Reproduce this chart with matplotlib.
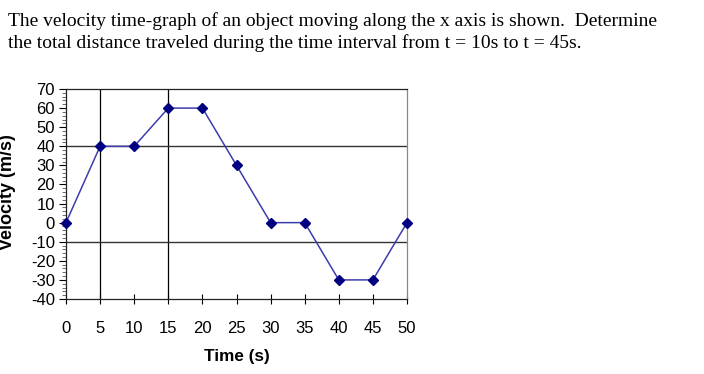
import matplotlib
matplotlib.use("Agg")
import matplotlib.pyplot as plt
from matplotlib.ticker import MultipleLocator

plt.rcParams["axes.unicode_minus"] = False

time_s = [0, 5, 10, 15, 20, 25, 30, 35, 40, 45, 50]
velocity = [0, 40, 40, 60, 60, 30, 0, 0, -30, -30, 0]
x_ticks = [0, 5, 10, 15, 20, 25, 30, 35, 40, 45, 50]
y_ticks = [70, 60, 50, 40, 30, 20, 10, 0, -10, -20, -30, -40]
grid_x = [5, 15]
grid_y = [40, -10]

fig = plt.figure(figsize=(7.04, 3.74), dpi=100)
fig.text(8/704, 1 - 32/374,
         "The velocity time-graph of an object moving along the x axis is shown.  Determine\n"
         "the total distance traveled during the time interval from t = 10s to t = 45s.",
         family="Liberation Serif", fontsize=14, va="center", ha="left",
         linespacing=1.25)

ax = fig.add_axes([66/704, 1 - 299/374, (407 - 66)/704, (299 - 89)/374])
for gx in grid_x:
    ax.axvline(gx, color="black", lw=0.9, zorder=1)
for gy in grid_y:
    ax.axhline(gy, color="#333333", lw=1.0, zorder=1)

ax.plot(time_s, velocity, color="#3c3cae", lw=1.1, marker="D", markersize=5,
        markerfacecolor="#000080", markeredgecolor="#000080", zorder=3, clip_on=False)

ax.set_xlim(0, 50)
ax.set_ylim(-40, 70)
ax.set_xticks(x_ticks)
ax.set_yticks(y_ticks)
ax.yaxis.set_minor_locator(MultipleLocator(2))
ax.tick_params(axis="y", which="major", direction="out", length=5, width=0.8,
               labelsize=12, pad=3)
ax.tick_params(axis="y", which="minor", direction="out", length=3, width=0.6, color="#555555")
ax.tick_params(axis="x", which="major", direction="inout", length=7, width=0.8,
               labelsize=12, pad=12)
for lab in ax.get_xticklabels() + ax.get_yticklabels():
    lab.set_family("Liberation Sans")
for sp in ["left", "bottom", "top"]:
    ax.spines[sp].set_color("#222222")
    ax.spines[sp].set_linewidth(0.9)
ax.spines["right"].set_color("#888888")
ax.spines["right"].set_linewidth(0.9)

ax.set_xlabel("Time (s)", family="Liberation Sans", fontweight="bold", fontsize=12.3,
              labelpad=10)
fig.text(8/704, 1 - 192/374, "Velocity (m/s)", rotation=90, family="Liberation Sans",
         fontweight="bold", fontsize=13, va="center", ha="center")

fig.savefig("out.png", dpi=100)
